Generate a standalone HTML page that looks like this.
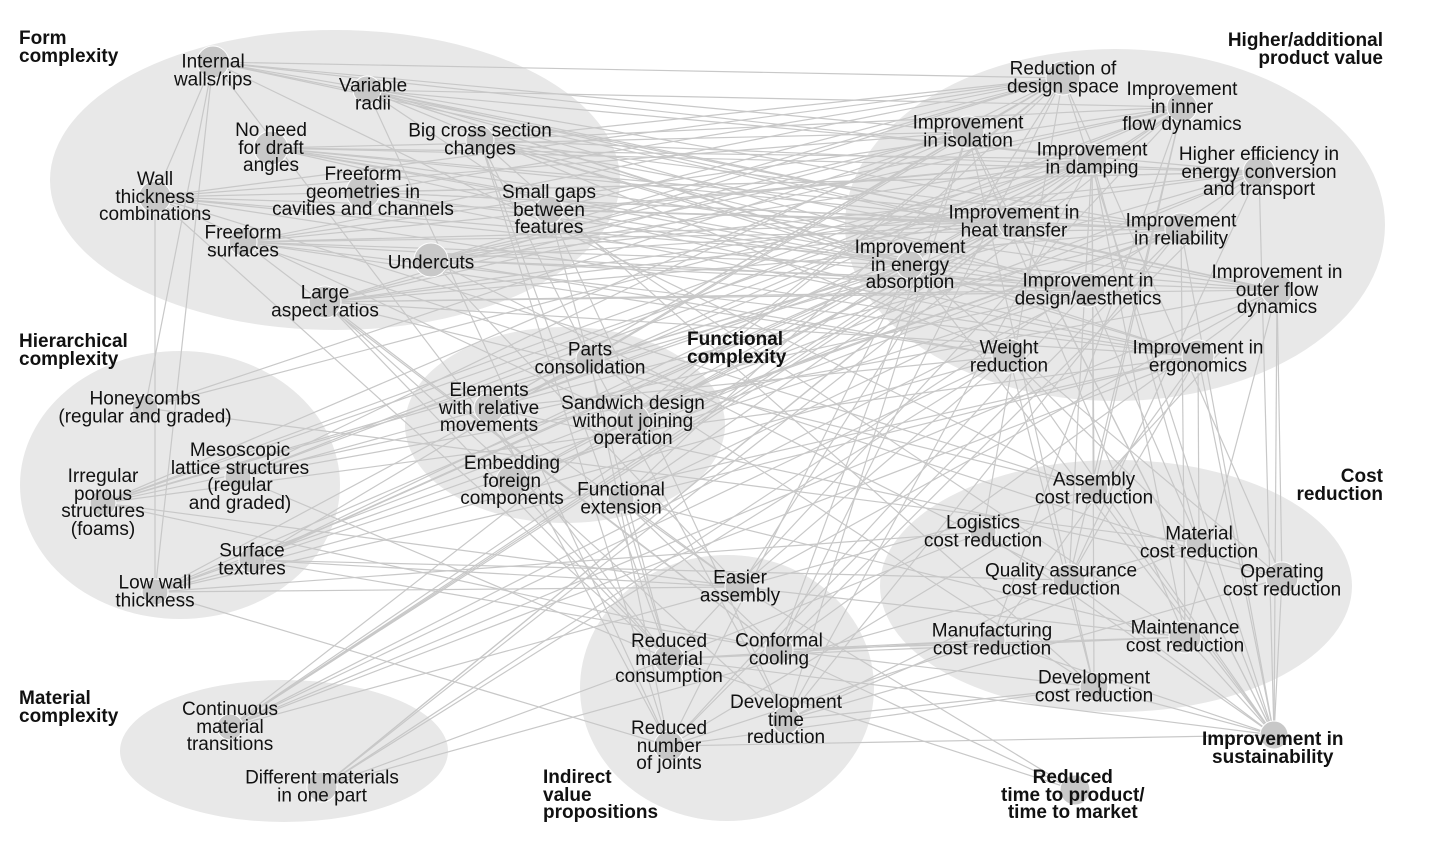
<!DOCTYPE html>
<html><head><meta charset="utf-8">
<style>
body{margin:0;background:#fff;}
#c{position:relative;width:1456px;height:848px;overflow:hidden;font-family:"Liberation Sans",Arial,sans-serif;}
svg{position:absolute;left:0;top:0;}
.t{position:absolute;font-size:19px;line-height:17.5px;color:#111;text-align:center;white-space:nowrap;transform:translate(-50%,-50%);}
.b{position:absolute;font-size:19px;line-height:17.5px;font-weight:bold;color:#111;white-space:nowrap;}
</style></head><body>
<div id="c">
<svg id="s" width="1456" height="848" viewBox="0 0 1456 848">
<g fill="#e8e8e8">
<ellipse cx="335" cy="180" rx="285" ry="150"/>
<ellipse cx="1115" cy="225" rx="270" ry="176"/>
<ellipse cx="180" cy="485" rx="160" ry="134"/>
<ellipse cx="565" cy="425" rx="160" ry="98"/>
<ellipse cx="1116" cy="586" rx="236" ry="126"/>
<ellipse cx="727" cy="688" rx="147" ry="133"/>
<ellipse cx="284" cy="751" rx="164" ry="71"/>
</g>
<g id="e" stroke="#c8c8c8" stroke-width="1.2" fill="none"></g>
<g id="d" fill="#c8c8c8" stroke="#fff" stroke-width="1"></g>
</svg>

<div class="b" style="left:19px;top:30px">Form<br>complexity</div>
<div class="b" style="right:73px;top:32px;text-align:right">Higher/additional<br>product value</div>
<div class="b" style="left:19px;top:333px">Hierarchical<br>complexity</div>
<div class="b" style="left:687px;top:331px">Functional<br>complexity</div>
<div class="b" style="right:73px;top:468px;text-align:right">Cost<br>reduction</div>
<div class="b" style="left:19px;top:690px">Material<br>complexity</div>
<div class="b" style="left:543px;top:769px">Indirect<br>value<br>propositions</div>
<div class="b" style="left:1202px;top:731px;text-align:center">Improvement in<br>sustainability</div>
<div class="b" style="left:1001px;top:769px;text-align:center">Reduced<br>time to product/<br>time to market</div>

<div class="t" style="left:213px;top:71px">Internal<br>walls/rips</div>
<div class="t" style="left:373px;top:95px">Variable<br>radii</div>
<div class="t" style="left:271px;top:148px">No need<br>for draft<br>angles</div>
<div class="t" style="left:480px;top:140px">Big cross section<br>changes</div>
<div class="t" style="left:155px;top:197px">Wall<br>thickness<br>combinations</div>
<div class="t" style="left:363px;top:192px">Freeform<br>geometries in<br>cavities and channels</div>
<div class="t" style="left:549px;top:210px">Small gaps<br>between<br>features</div>
<div class="t" style="left:243px;top:242px">Freeform<br>surfaces</div>
<div class="t" style="left:431px;top:263px">Undercuts</div>
<div class="t" style="left:325px;top:302px">Large<br>aspect ratios</div>

<div class="t" style="left:145px;top:408px">Honeycombs<br>(regular and graded)</div>
<div class="t" style="left:240px;top:477px">Mesoscopic<br>lattice structures<br>(regular<br>and graded)</div>
<div class="t" style="left:103px;top:503px">Irregular<br>porous<br>structures<br>(foams)</div>
<div class="t" style="left:252px;top:560px">Surface<br>textures</div>
<div class="t" style="left:155px;top:592px">Low wall<br>thickness</div>

<div class="t" style="left:590px;top:359px">Parts<br>consolidation</div>
<div class="t" style="left:489px;top:408px">Elements<br>with relative<br>movements</div>
<div class="t" style="left:633px;top:421px">Sandwich design<br>without joining<br>operation</div>
<div class="t" style="left:512px;top:481px">Embedding<br>foreign<br>components</div>
<div class="t" style="left:621px;top:499px">Functional<br>extension</div>

<div class="t" style="left:230px;top:727px">Continuous<br>material<br>transitions</div>
<div class="t" style="left:322px;top:787px">Different materials<br>in one part</div>

<div class="t" style="left:740px;top:587px">Easier<br>assembly</div>
<div class="t" style="left:669px;top:659px">Reduced<br>material<br>consumption</div>
<div class="t" style="left:779px;top:650px">Conformal<br>cooling</div>
<div class="t" style="left:786px;top:720px">Development<br>time<br>reduction</div>
<div class="t" style="left:669px;top:746px">Reduced<br>number<br>of joints</div>

<div class="t" style="left:1063px;top:78px">Reduction of<br>design space</div>
<div class="t" style="left:1182px;top:107px">Improvement<br>in inner<br>flow dynamics</div>
<div class="t" style="left:968px;top:132px">Improvement<br>in isolation</div>
<div class="t" style="left:1092px;top:159px">Improvement<br>in damping</div>
<div class="t" style="left:1259px;top:172px">Higher efficiency in<br>energy conversion<br>and transport</div>
<div class="t" style="left:1014px;top:222px">Improvement in<br>heat transfer</div>
<div class="t" style="left:1181px;top:230px">Improvement<br>in reliability</div>
<div class="t" style="left:910px;top:265px">Improvement<br>in energy<br>absorption</div>
<div class="t" style="left:1088px;top:290px">Improvement in<br>design/aesthetics</div>
<div class="t" style="left:1277px;top:290px">Improvement in<br>outer flow<br>dynamics</div>
<div class="t" style="left:1009px;top:357px">Weight<br>reduction</div>
<div class="t" style="left:1198px;top:357px">Improvement in<br>ergonomics</div>

<div class="t" style="left:1094px;top:489px">Assembly<br>cost reduction</div>
<div class="t" style="left:983px;top:532px">Logistics<br>cost reduction</div>
<div class="t" style="left:1199px;top:543px">Material<br>cost reduction</div>
<div class="t" style="left:1061px;top:580px">Quality assurance<br>cost reduction</div>
<div class="t" style="left:1282px;top:581px">Operating<br>cost reduction</div>
<div class="t" style="left:992px;top:640px">Manufacturing<br>cost reduction</div>
<div class="t" style="left:1185px;top:637px">Maintenance<br>cost reduction</div>
<div class="t" style="left:1094px;top:687px">Development<br>cost reduction</div>
</div>
<script>
var src=[[213,62,16],[367,90,14],[271,148,17],[480,140,14],[155,197,16],[363,192,17],[549,210,14],[243,242,14],[431,260,17],[325,302,16],
[145,408,13],[238,477,13],[103,503,13],[252,560,13],[155,592,13],
[590,359,14],[489,408,15],[633,421,17],[512,481,16],[621,499,13],
[230,727,13],[322,787,15]];
var mid=[[740,587,15],[669,659,15],[779,650,14],[786,720,14],[669,746,15]];
var val=[[1063,78,17],[1182,107,15],[968,132,16],[1092,159,15],[1259,172,16],[1014,222,16],[1181,229,16],[910,265,14],[1088,290,17],[1277,290,16],[1009,356,17],[1198,356,16]];
var cost=[[1094,489,14],[983,532,13],[1199,543,13],[1069,580,16],[1282,578,16],[992,640,13],[1185,637,16],[1094,687,14]];
var fin=[[1274,735,14],[1075,790,15]];
var seed=7;function r(){seed=(seed*16807)%2147483647;return seed/2147483647;}
var E=document.getElementById('e'),D=document.getElementById('d'),h='';
function L(a,b){h+='<line x1="'+a[0]+'" y1="'+a[1]+'" x2="'+b[0]+'" y2="'+b[1]+'"/>';}
src.forEach(function(s,i){val.forEach(function(v){if(r()<(i<10?0.6:0.45))L(s,v);});mid.forEach(function(m){if(r()<0.35)L(s,m);});cost.forEach(function(c){if(r()<0.12)L(s,c);});if(i<15&&r()<0.3)L(s,src[15+Math.floor(r()*5)]);});
L(src[0],src[4]);L(src[0],src[14]);L(src[0],src[10]);L(src[4],src[14]);
mid.forEach(function(m){cost.forEach(function(c){if(r()<0.4)L(m,c);});fin.forEach(function(f){if(r()<0.5)L(m,f);});val.forEach(function(v){if(r()<0.25)L(m,v);});});
val.forEach(function(v){cost.forEach(function(c){if(r()<0.25)L(v,c);});if(r()<0.5)L(v,fin[0]);});
cost.forEach(function(c){L(c,fin[0]);});
E.innerHTML=h;
var dh='';[src,mid,val,cost,fin].forEach(function(g){g.forEach(function(p){dh+='<circle cx="'+p[0]+'" cy="'+p[1]+'" r="'+p[2]+'"/>';});});
D.innerHTML=dh;
</script>
</body></html>
